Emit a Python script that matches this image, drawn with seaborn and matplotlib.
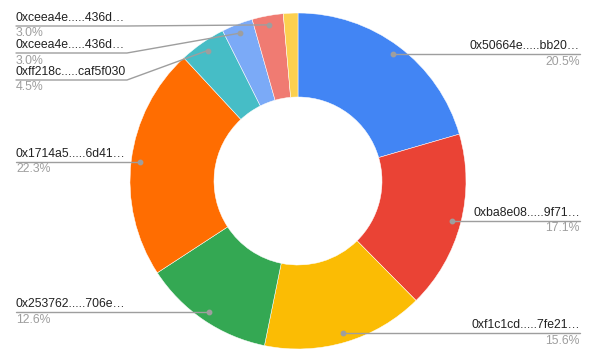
import numpy as np
import matplotlib
matplotlib.use("Agg")
import matplotlib.pyplot as plt
import seaborn as sns

# Datos del gráfico (orden horario desde arriba)
labels = ['0x50664e.....bb20…', '0xba8e08.....9f71…', '0xf1c1cd.....7fe21…',
          '0x253762.....706e…', '0x1714a5.....6d41…', '0xff218c.....caf5f030',
          '0xceea4e.....436d…', '0xceea4e.....436d…', '']
shares = [20.5, 17.1, 15.6, 12.6, 22.3, 4.5, 3.0, 3.0, 1.4]
colors = ['#4285F4', '#EA4335', '#FBBC04', '#34A853', '#FF6D01',
          '#46BDC6', '#7BAAF7', '#F07B72', '#FCD04F']

# Estilo
sns.set_style("white")
plt.rcParams['font.family'] = ['Liberation Sans', 'DejaVu Sans']

W, H = 595, 363
cx, cy, R = 298, H - 181, 168
line_color = '#9e9e9e'
text_color = '#222222'
pct_color = '#9e9e9e'
fs = 8.8

fig = plt.figure(figsize=(W / 100, H / 100), dpi=100)
ax = fig.add_axes([0, 0, 1, 1])

# Donut
wedges, _ = ax.pie(shares, colors=colors, startangle=90, counterclock=False,
                   center=(cx, cy), radius=R, frame=True,
                   wedgeprops=dict(width=R / 2, edgecolor='white', linewidth=0.35))
ax.set_xlim(0, W)
ax.set_ylim(0, H)
ax.axis('off')

# Etiquetas pequeñas apiladas arriba a la izquierda (y en píxeles desde arriba)
stacked_y = {7: 26, 6: 53, 5: 80}
left_x, right_x, elbow_x = 16, 580, 127

total = sum(shares)
start = 0.0
for i, (lab, val) in enumerate(zip(labels, shares)):
    mid = (start + val / 2) / total * 2 * np.pi
    start += val
    if not lab:
        continue
    dx = cx + 0.945 * R * np.sin(mid)
    dy = cy + 0.945 * R * np.cos(mid)
    ax.plot(dx, dy, 'o', color=line_color, markersize=3.2, zorder=5)
    pct = f'{val:.1f}%'
    if i in stacked_y:
        ly = H - stacked_y[i]
        ax.plot([left_x, elbow_x, dx], [ly, ly, dy], color=line_color, lw=1, zorder=4)
    else:
        ly = dy
        end = right_x if np.sin(mid) > 0 else left_x
        ax.plot([end, dx], [ly, ly], color=line_color, lw=1, zorder=4)
    if np.sin(mid) > 0:
        ax.text(right_x, ly + 2, lab, ha='right', va='bottom', fontsize=fs, color=text_color)
        ax.text(right_x, ly - 1.5, pct, ha='right', va='top', fontsize=fs, color=pct_color)
    else:
        ax.text(left_x, ly + 2, lab, ha='left', va='bottom', fontsize=fs, color=text_color)
        ax.text(left_x, ly - 1.5, pct, ha='left', va='top', fontsize=fs, color=pct_color)

plt.savefig('out.png', dpi=100, facecolor='white')
plt.close(fig)
